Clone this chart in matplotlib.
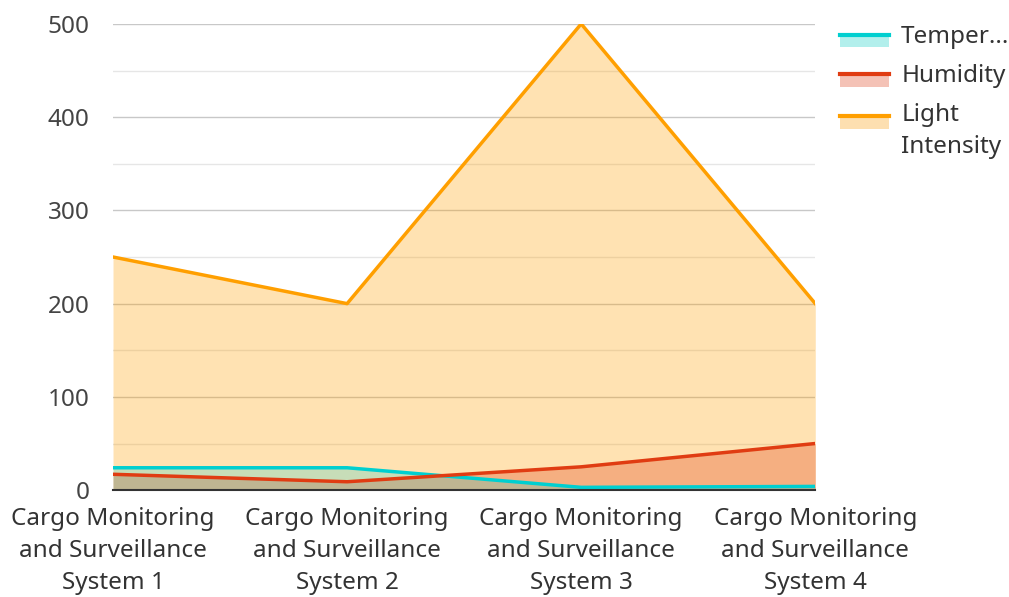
import numpy as np
import matplotlib.pyplot as plt
from matplotlib.legend_handler import HandlerBase
from matplotlib.patches import Rectangle
from matplotlib.lines import Line2D

plt.rcParams['font.family'] = ['Noto Sans', 'DejaVu Sans']

categories = ['Cargo Monitoring\nand Surveillance\nSystem 1',
              'Cargo Monitoring\nand Surveillance\nSystem 2',
              'Cargo Monitoring\nand Surveillance\nSystem 3',
              'Cargo Monitoring\nand Surveillance\nSystem 4']
temperature = [24, 24, 3, 4]
humidity = [17, 9, 25, 50]
light = [250, 200, 500, 200]

series = [
    ('Temper...', temperature, '#00cfd0', '#b2efec', 0.22),
    ('Humidity', humidity, '#e03c12', '#f4c2b6', 0.3),
    ('Light\nIntensity', light, '#ff9f00', '#fddfb0', 0.3),
]


class AreaHandler(HandlerBase):
    def __init__(self, line_color, fill_color, dy=0):
        super().__init__()
        self.line_color = line_color
        self.fill_color = fill_color
        self.dy = dy

    def create_artists(self, legend, orig_handle, xdescent, ydescent, width, height, fontsize, trans):
        y0 = -ydescent + self.dy
        rect = Rectangle((-xdescent, y0 - height * 0.25), width, height * 0.75,
                         facecolor=self.fill_color, edgecolor='none', transform=trans)
        ln = Line2D([-xdescent, -xdescent + width], [y0 + height * 0.5] * 2,
                    color=self.line_color, lw=3, transform=trans)
        return [rect, ln]


fig, ax = plt.subplots(figsize=(10.09, 5.97), dpi=100)
fig.subplots_adjust(left=0.112, right=0.808, top=0.96, bottom=0.179)

x = np.arange(len(categories))
handles = []
handler_map = {}
# light first so the smaller areas sit on top
for name, vals, lc, fc, a in series[::-1]:
    ax.fill_between(x, 0, vals, color=lc, alpha=a, lw=0, zorder=2)
for name, vals, lc, fc, a in series:
    ln, = ax.plot(x, vals, color=lc, lw=2.5, zorder=3, label=name)
    handles.append(ln)
    # two-line label: keep the swatch next to the first line
    handler_map[ln] = AreaHandler(lc, fc, dy=11.5 if '\n' in name else 0)

ax.set_xlim(0, 3)
ax.set_ylim(0, 500)
ax.set_yticks(np.arange(0, 501, 100))
ax.set_yticks(np.arange(50, 500, 100), minor=True)
ax.grid(axis='y', which='major', color='#c8c8c8', lw=1, zorder=1)
ax.grid(axis='y', which='minor', color='#e6e6e6', lw=1, zorder=1)
ax.set_xticks(x)
ax.set_xticklabels(categories, fontsize=17.5, color='#333333', linespacing=1.45)
ax.tick_params(axis='y', labelsize=17.5, labelcolor='#444444', length=0, pad=17)
ax.tick_params(axis='x', length=0, pad=12)
ax.tick_params(axis='y', which='minor', length=0)
for s in ['top', 'right', 'left']:
    ax.spines[s].set_visible(False)
ax.spines['bottom'].set_color('#333333')
ax.spines['bottom'].set_linewidth(1.5)
ax.spines['bottom'].set_zorder(4)

leg = ax.legend(handles=handles, handler_map=handler_map, loc='upper left',
                bbox_to_anchor=(1.022, 1.018), frameon=False, fontsize=17.5,
                handlelength=2.0, handleheight=0.7, labelspacing=0.62, handletextpad=0.5,
                labelcolor='#333333', borderaxespad=0)
for t in leg.get_texts():
    t.set_linespacing(1.45)

plt.savefig('out.png', dpi=100)
